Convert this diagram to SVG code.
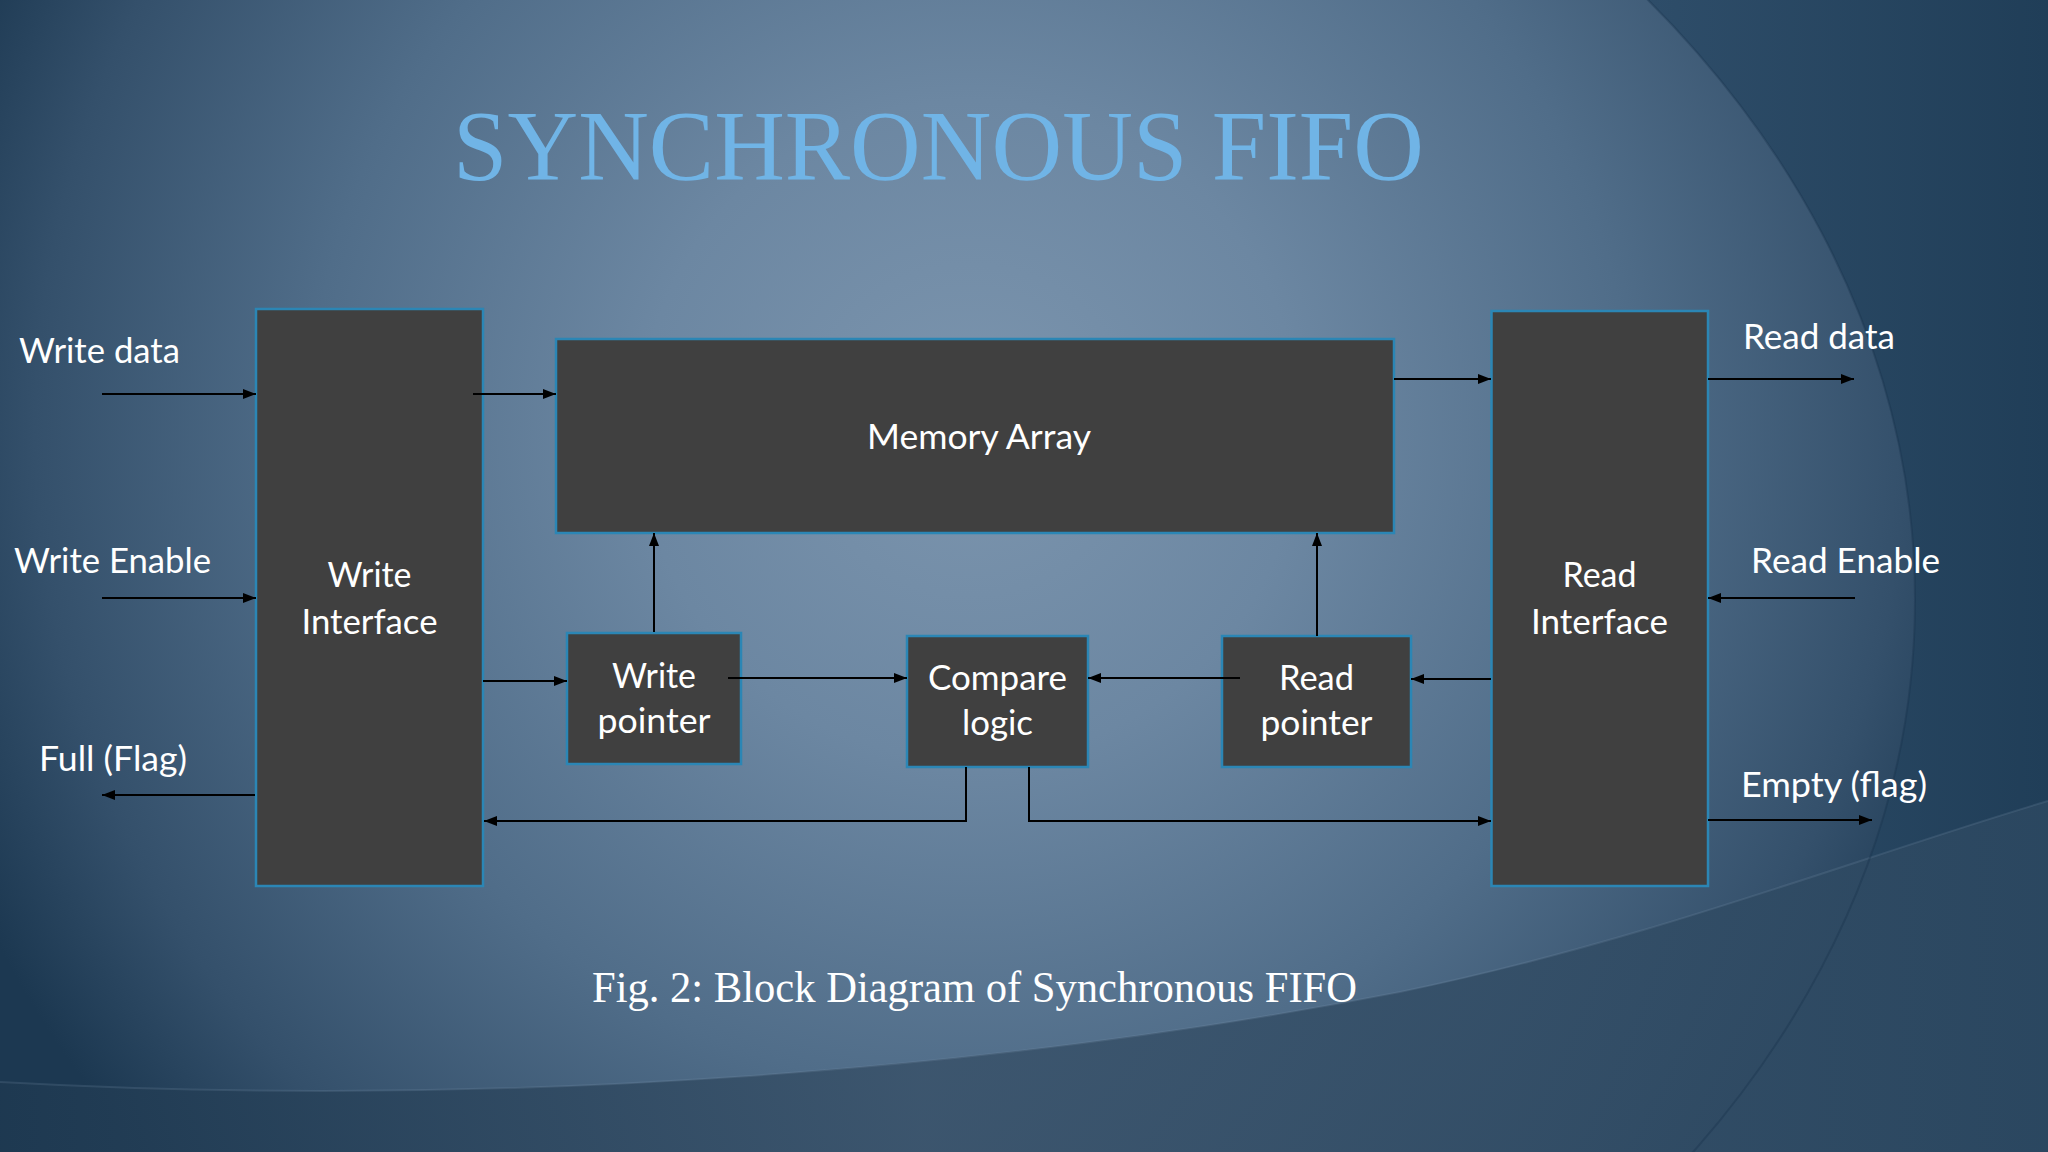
<svg xmlns="http://www.w3.org/2000/svg" width="2048" height="1152" viewBox="0 0 2048 1152">
  <defs>
    <radialGradient id="bgLight" gradientUnits="userSpaceOnUse" cx="970" cy="430" r="1100">
      <stop offset="0" stop-color="#7C95AE"/>
      <stop offset="0.3" stop-color="#6C87A2"/>
      <stop offset="0.6" stop-color="#506D89"/>
      <stop offset="0.85" stop-color="#34506B"/>
      <stop offset="1" stop-color="#1C3851"/>
    </radialGradient>
    <linearGradient id="bgOut" gradientUnits="userSpaceOnUse" x1="1650" y1="0" x2="2048" y2="0">
      <stop offset="0" stop-color="#2E4D69"/>
      <stop offset="1" stop-color="#203E58"/>
    </linearGradient>
    <linearGradient id="bgBand" gradientUnits="userSpaceOnUse" x1="0" y1="0" x2="2048" y2="0">
      <stop offset="0" stop-color="#1E3951"/>
      <stop offset="0.45" stop-color="#3A536B"/>
      <stop offset="1" stop-color="#2C4861"/>
    </linearGradient>
    <marker id="ah" markerUnits="userSpaceOnUse" markerWidth="13" markerHeight="10" refX="13" refY="5" orient="auto">
      <path d="M0,0 L13,5 L0,10 Z" fill="#000"/>
    </marker>
    <style>
      .lbl { font-family: Lato, "Open Sans", "Liberation Sans", sans-serif; font-size: 34px; fill: #FFFFFF; }
      .mid { text-anchor: middle; }
      .box { fill: #404040; stroke: #2B86B5; stroke-width: 2.5; }
      .wire { stroke: #000000; stroke-width: 2; fill: none; marker-end: url(#ah); }
    </style>
  </defs>

  <!-- background -->
  <rect x="0" y="0" width="2048" height="1152" fill="url(#bgOut)"/>
  <ellipse cx="580" cy="600" rx="1335" ry="1000" fill="url(#bgLight)"/>
  <path d="M0,1082 C500,1110 1000,1070 1400,992 C1650,940 1850,860 2048,801 L2048,1152 L0,1152 Z" fill="url(#bgBand)" opacity="0.9"/>
  <path d="M0,1082 C500,1110 1000,1070 1400,992 C1650,940 1850,860 2048,801" fill="none" stroke="#7E97AE" stroke-width="2" opacity="0.2"/>
  <ellipse cx="580" cy="600" rx="1335" ry="1000" fill="none" stroke="#18304A" stroke-width="2" opacity="0.35"/>

  <!-- title and caption -->
  <text x="453" y="179" font-family="'Liberation Serif', 'Times New Roman', serif" font-size="100" fill="#70B4E6" textLength="971" lengthAdjust="spacingAndGlyphs">SYNCHRONOUS FIFO</text>
  <text x="592" y="1002" font-family="'Liberation Serif', 'Times New Roman', serif" font-size="44" fill="#FFFFFF" textLength="765" lengthAdjust="spacingAndGlyphs">Fig. 2: Block Diagram of Synchronous FIFO</text>

  <!-- external labels -->
  <g id="labels">
    <text class="lbl" x="19" y="363" textLength="161" lengthAdjust="spacingAndGlyphs">Write data</text>
    <text class="lbl" x="14" y="573" textLength="197" lengthAdjust="spacingAndGlyphs">Write Enable</text>
    <text class="lbl" x="39" y="771" textLength="148" lengthAdjust="spacingAndGlyphs">Full (Flag)</text>
    <text class="lbl" x="1743" y="349" textLength="152" lengthAdjust="spacingAndGlyphs">Read data</text>
    <text class="lbl" x="1751" y="573" textLength="189" lengthAdjust="spacingAndGlyphs">Read Enable</text>
    <text class="lbl" x="1741" y="797" textLength="186" lengthAdjust="spacingAndGlyphs">Empty (flag)</text>
  </g>

  <!-- nodes -->
  <g id="write-interface">
    <rect class="box" x="256" y="309" width="227" height="577"/>
    <text class="lbl mid" x="369.5" y="587" textLength="84" lengthAdjust="spacingAndGlyphs">Write</text>
    <text class="lbl mid" x="369.5" y="634" textLength="136" lengthAdjust="spacingAndGlyphs">Interface</text>
  </g>
  <g id="memory-array">
    <rect class="box" x="556" y="339" width="838" height="194"/>
    <text class="lbl mid" x="979" y="449" textLength="224" lengthAdjust="spacingAndGlyphs">Memory Array</text>
  </g>
  <g id="write-pointer">
    <rect class="box" x="567" y="633" width="174" height="131"/>
    <text class="lbl mid" x="654" y="688" textLength="84" lengthAdjust="spacingAndGlyphs">Write</text>
    <text class="lbl mid" x="654" y="733" textLength="113" lengthAdjust="spacingAndGlyphs">pointer</text>
  </g>
  <g id="compare-logic">
    <rect class="box" x="907" y="636" width="181" height="131"/>
    <text class="lbl mid" x="997.5" y="690" textLength="139" lengthAdjust="spacingAndGlyphs">Compare</text>
    <text class="lbl mid" x="997.5" y="735" textLength="71" lengthAdjust="spacingAndGlyphs">logic</text>
  </g>
  <g id="read-pointer">
    <rect class="box" x="1222" y="636" width="189" height="131"/>
    <text class="lbl mid" x="1316.5" y="690" textLength="75" lengthAdjust="spacingAndGlyphs">Read</text>
    <text class="lbl mid" x="1316.5" y="735" textLength="112" lengthAdjust="spacingAndGlyphs">pointer</text>
  </g>
  <g id="read-interface">
    <rect class="box" x="1491.5" y="311" width="216.5" height="575"/>
    <text class="lbl mid" x="1599.5" y="587" textLength="74" lengthAdjust="spacingAndGlyphs">Read</text>
    <text class="lbl mid" x="1599.5" y="634" textLength="137" lengthAdjust="spacingAndGlyphs">Interface</text>
  </g>

  <!-- connectors -->
  <g id="connectors">
    <path class="wire" d="M102,394 H256"/>
    <path class="wire" d="M102,598 H256"/>
    <path class="wire" d="M255,795 H102"/>
    <path class="wire" d="M473,394 H556"/>
    <path class="wire" d="M483,681 H567"/>
    <path class="wire" d="M654,632 V533"/>
    <path class="wire" d="M1317,636 V533"/>
    <path class="wire" d="M728,678 H907"/>
    <path class="wire" d="M1240,678 H1088"/>
    <path class="wire" d="M1491,679 H1411"/>
    <path class="wire" d="M966,767 V821 H484"/>
    <path class="wire" d="M1029,767 V821 H1491"/>
    <path class="wire" d="M1394,379 H1491"/>
    <path class="wire" d="M1708,379 H1854"/>
    <path class="wire" d="M1855,598 H1708"/>
    <path class="wire" d="M1708,820 H1872"/>
  </g>
</svg>
